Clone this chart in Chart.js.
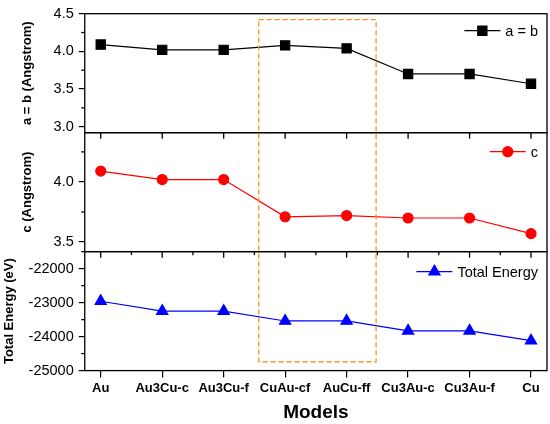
<!DOCTYPE html>
<html>
<head>
<meta charset="utf-8">
<script src="https://cdn.jsdelivr.net/npm/chart.js@4/dist/chart.umd.min.js"></script>
<style>
  html, body { margin: 0; padding: 0; background: #fff; }
  #wrap { width: 550px; height: 424px; }
</style>
</head>
<body>
<div id="wrap"><canvas id="models-chart"></canvas></div>
<script>
const models = ["Au", "Au3Cu-c", "Au3Cu-f", "CuAu-cf", "AuCu-ff", "Cu3Au-c", "Cu3Au-f", "Cu"];
const latticeAB = [4.09, 4.02, 4.02, 4.08, 4.04, 3.70, 3.70, 3.57];
const latticeC = [4.09, 4.02, 4.02, 3.71, 3.72, 3.70, 3.70, 3.57];
const totalEnergy = [-22960, -23250, -23250, -23540, -23540, -23830, -23830, -24120];

// highlighted region (data units)
const boxX = [2.57, 4.48];
const boxTopAB = 4.42;
const boxBottomEnergy = -24740;

const FONT = "'Liberation Sans', Arial, sans-serif";

const toPoints = (arr) => arr.map((v, i) => ({ x: i, y: v }));

const panels = [
    { id: "yTop", label: "a = b", color: "#000000", style: "rect", radius: 6.5, dy: 17, major: 0.5 },
    { id: "yMid", label: "c", color: "#ff0000", style: "circle", radius: 5, dy: 19, major: 0.5 },
    { id: "yBot", label: "Total Energy", color: "#0000ff", style: "triangle", radius: 6.5, dy: 20, major: 1000 },
];

const isMajor = (v, major) => Math.abs(v / major - Math.round(v / major)) < 1e-6;

const panelPlugin = {
    id: "panelPlugin",
    afterDatasetsDraw(chart) {
        const { ctx, chartArea } = chart;
        const xs = chart.scales.x;
        ctx.save();

        // frames, minor y ticks, inner x ticks
        ctx.strokeStyle = "#000";
        ctx.lineWidth = 1.3;
        panels.forEach((p, idx) => {
            const s = chart.scales[p.id];
            ctx.strokeRect(chartArea.left, s.top, chartArea.right - chartArea.left, s.bottom - s.top);
            s.ticks.forEach((t) => {
                if (!isMajor(t.value, p.major)) {
                    const y = s.getPixelForValue(t.value);
                    ctx.beginPath();
                    ctx.moveTo(chartArea.left - 3.5, y);
                    ctx.lineTo(chartArea.left, y);
                    ctx.stroke();
                }
            });
            if (idx > 0) {
                models.forEach((m, i) => {
                    const x = xs.getPixelForValue(i);
                    ctx.beginPath();
                    ctx.moveTo(x, s.top);
                    ctx.lineTo(x, s.top + 6);
                    ctx.stroke();
                    if (idx === 2 && i < models.length - 1) {
                        const xm = xs.getPixelForValue(i + 0.5);
                        ctx.beginPath();
                        ctx.moveTo(xm, s.top);
                        ctx.lineTo(xm, s.top + 3.5);
                        ctx.stroke();
                    }
                });
            }
        });

        // dashed highlight box
        const x1 = xs.getPixelForValue(boxX[0]);
        const x2 = xs.getPixelForValue(boxX[1]);
        const y1 = chart.scales.yTop.getPixelForValue(boxTopAB);
        const y2 = chart.scales.yBot.getPixelForValue(boxBottomEnergy);
        ctx.strokeStyle = "#f7941d";
        ctx.lineWidth = 1.3;
        ctx.setLineDash([5, 3]);
        ctx.strokeRect(x1, y1, x2 - x1, y2 - y1);
        ctx.setLineDash([]);

        // legends
        ctx.font = "14.5px " + FONT;
        ctx.textBaseline = "middle";
        panels.forEach((p) => {
            const s = chart.scales[p.id];
            const tw = ctx.measureText(p.label).width;
            const tx = chartArea.right - 9 - tw;
            const y = s.top + p.dy;
            ctx.strokeStyle = p.color;
            ctx.fillStyle = p.color;
            ctx.lineWidth = 1.2;
            ctx.beginPath();
            ctx.moveTo(tx - 41, y);
            ctx.lineTo(tx - 5, y);
            ctx.stroke();
            Chart.helpers.drawPoint(ctx, { pointStyle: p.style, radius: p.radius, rotation: 0, borderWidth: 1 }, tx - 23, y);
            ctx.fillStyle = "#000";
            ctx.fillText(p.label, tx, y + 1);
        });
        ctx.restore();
    }
};

function yAxis(title, min, max, step, major, fmt, titleShift) {
    return {
        type: "linear",
        position: "left",
        stack: "panels",
        stackWeight: 1,
        min: min,
        max: max,
        border: { display: false },
        grid: {
            drawOnChartArea: false,
            drawTicks: true,
            tickLength: 6,
            lineWidth: 1.2,
            tickColor: (c) => (c.tick && isMajor(c.tick.value, major) ? "#000" : "rgba(0,0,0,0)")
        },
        ticks: {
            stepSize: step,
            includeBounds: false,
            autoSkip: false,
            color: "#000",
            padding: 5,
            font: { family: FONT, size: 14.5 },
            callback: (v) => (isMajor(v, major) ? fmt(v) : "")
        },
        title: {
            display: true,
            text: title,
            color: "#000",
            padding: { top: titleShift, bottom: 6 },
            font: { family: FONT, size: 13, weight: "bold" }
        }
    };
}

new Chart(document.getElementById("models-chart"), {
    type: "line",
    data: {
        datasets: [
            {
                label: "a = b",
                data: toPoints(latticeAB),
                yAxisID: "yTop",
                borderColor: "#000000",
                backgroundColor: "#000000",
                pointStyle: "rect",
                pointRadius: 6.5,
                borderWidth: 1.2,
            },
            {
                label: "c",
                data: toPoints(latticeC),
                yAxisID: "yMid",
                borderColor: "#ff0000",
                backgroundColor: "#ff0000",
                pointStyle: "circle",
                pointRadius: 5,
                borderWidth: 1.2,
            },
            {
                label: "Total Energy",
                data: toPoints(totalEnergy),
                yAxisID: "yBot",
                borderColor: "#0000ff",
                backgroundColor: "#0000ff",
                pointStyle: "triangle",
                pointRadius: 6.5,
                borderWidth: 1.2,
            },
        ],
    },
    options: {
        responsive: true,
        maintainAspectRatio: false,
        animation: false,
        layout: { autoPadding: false, padding: { top: -2, right: 3, left: 2, bottom: 0 } },
        plugins: { legend: { display: false }, tooltip: { enabled: false } },
        scales: {
            x: {
                type: "linear",
                min: -0.26,
                max: 7.26,
                border: { display: false },
                grid: { drawOnChartArea: false, tickLength: 7, color: "#000", lineWidth: 1.2 },
                ticks: {
                    stepSize: 1,
                    includeBounds: false,
                    autoSkip: false,
                    maxRotation: 0,
                    color: "#000",
                    padding: 3,
                    font: { family: FONT, size: 13, weight: "bold" },
                    callback: (v) => models[v] || ""
                },
                title: {
                    display: true,
                    text: "Models",
                    color: "#000",
                    padding: { top: 2, bottom: 0 },
                    font: { family: FONT, size: 19, weight: "bold" }
                }
            },
            yBot: yAxis("Total Energy (eV)", -25000, -21500, 500, 1000, (v) => String(v), 0),
            yMid: yAxis("c (Angstrom)", 3.42, 4.41, 0.25, 0.5, (v) => v.toFixed(1), 18),
            yTop: yAxis("a = b (Angstrom)", 2.92, 4.5, 0.25, 0.5, (v) => v.toFixed(1), 18),
        }
    },
    plugins: [panelPlugin]
});
</script>
</body>
</html>
